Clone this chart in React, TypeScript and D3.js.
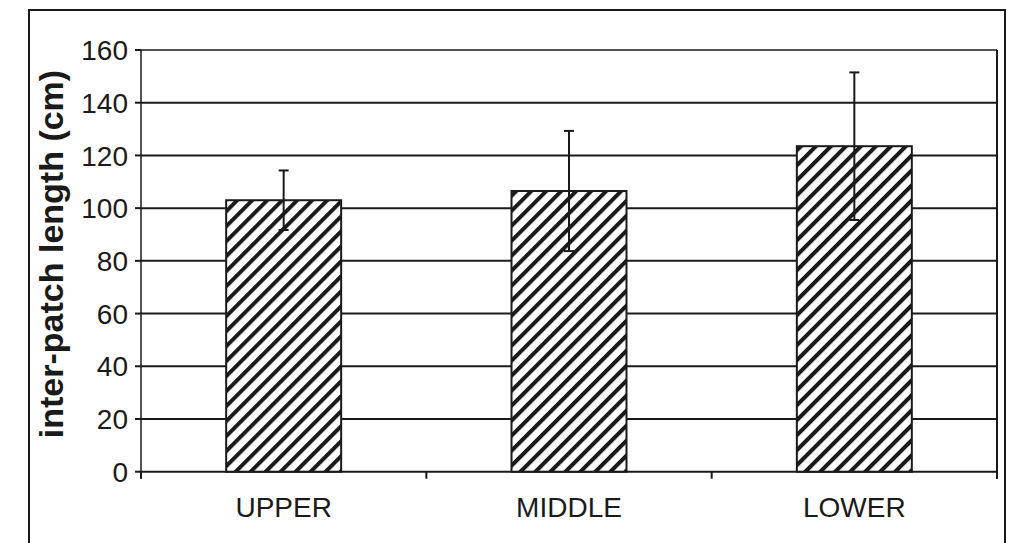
import React from 'react';
import * as d3 from 'd3';

const sites = ['UPPER', 'MIDDLE', 'LOWER'];
const meanLength = [103, 106.5, 123.5];
const errLength = [11.3, 22.8, 28];
const yTicks = [0, 20, 40, 60, 80, 100, 120, 140, 160];

const W = 1023;
const H = 543;
const plot = { left: 141, right: 997, top: 50, bottom: 471.7 };
const FONT = '"Liberation Sans", Arial, Helvetica, sans-serif';

const App: React.FC = () => {
  const x = d3
    .scaleBand<string>()
    .domain(sites)
    .range([plot.left, plot.right])
    .paddingInner(0.597)
    .paddingOuter(0.2985);

  const y = d3.scaleLinear().domain([0, 160]).range([plot.bottom, plot.top]);

  const step = x.step();
  const boundaries = d3.range(sites.length + 1).map(i => plot.left + i * step);

  return (
    <svg
      width={W}
      height={H}
      style={{ position: 'absolute', left: 0, top: 0, background: '#fff' }}
    >
      <defs>
        <pattern
          id="hatch"
          patternUnits="userSpaceOnUse"
          width={10.6}
          height={10.6}
          patternTransform="rotate(45)"
        >
          <rect width={10.6} height={10.6} fill="#fff" />
          <rect x={0} y={0} width={4} height={10.6} fill="#1a1a1a" />
        </pattern>
      </defs>

      {/* outer frame */}
      <rect x={29} y={10} width={976} height={560} fill="none" stroke="#1a1a1a" strokeWidth={2} />

      {/* gridlines */}
      {yTicks.map(t => (
        <line
          key={`g${t}`}
          x1={plot.left}
          x2={plot.right}
          y1={y(t)}
          y2={y(t)}
          stroke="#1a1a1a"
          strokeWidth={t === 160 ? 1.5 : 2}
        />
      ))}

      {/* y axis */}
      <line x1={plot.left} x2={plot.left} y1={plot.top} y2={plot.bottom + 7} stroke="#1a1a1a" strokeWidth={1.5} />
      <line x1={plot.right} x2={plot.right} y1={plot.top} y2={plot.bottom + 7} stroke="#1a1a1a" strokeWidth={2} />
      {yTicks.map(t => (
        <g key={`t${t}`}>
          <line x1={plot.left - 6} x2={plot.left} y1={y(t)} y2={y(t)} stroke="#1a1a1a" strokeWidth={2} />
          <text
            x={plot.left - 13}
            y={y(t)}
            dy="0.36em"
            textAnchor="end"
            fontFamily={FONT}
            fontSize={28}
            fill="#1a1a1a"
          >
            {t}
          </text>
        </g>
      ))}

      {/* x axis ticks */}
      {boundaries.map((bx, i) => (
        <line key={`xb${i}`} x1={bx} x2={bx} y1={plot.bottom} y2={plot.bottom + 7} stroke="#1a1a1a" strokeWidth={2} />
      ))}

      {/* bars */}
      {sites.map((s, i) => (
        <rect
          key={`b${s}`}
          x={x(s)}
          y={y(meanLength[i])}
          width={x.bandwidth()}
          height={y(0) - y(meanLength[i])}
          fill="url(#hatch)"
          stroke="#1a1a1a"
          strokeWidth={2}
        />
      ))}

      {/* error bars */}
      {sites.map((s, i) => {
        const cx = (x(s) || 0) + x.bandwidth() / 2;
        const hi = y(meanLength[i] + errLength[i]);
        const lo = y(meanLength[i] - errLength[i]);
        return (
          <g key={`e${s}`} stroke="#1a1a1a" strokeWidth={2}>
            <line x1={cx} x2={cx} y1={hi} y2={lo} />
            <line x1={cx - 5} x2={cx + 5} y1={hi} y2={hi} />
            <line x1={cx - 5} x2={cx + 5} y1={lo} y2={lo} />
          </g>
        );
      })}

      {/* category labels */}
      {sites.map(s => (
        <text
          key={`l${s}`}
          x={(x(s) || 0) + x.bandwidth() / 2}
          y={517}
          textAnchor="middle"
          fontFamily={FONT}
          fontSize={28}
          fill="#1a1a1a"
        >
          {s}
        </text>
      ))}

      {/* y axis title */}
      <text
        transform="translate(63,254) rotate(-90)"
        textAnchor="middle"
        fontFamily={FONT}
        fontSize={34}
        fontWeight="bold"
        fill="#1a1a1a"
      >
        inter-patch length (cm)
      </text>
    </svg>
  );
};

export default App;
